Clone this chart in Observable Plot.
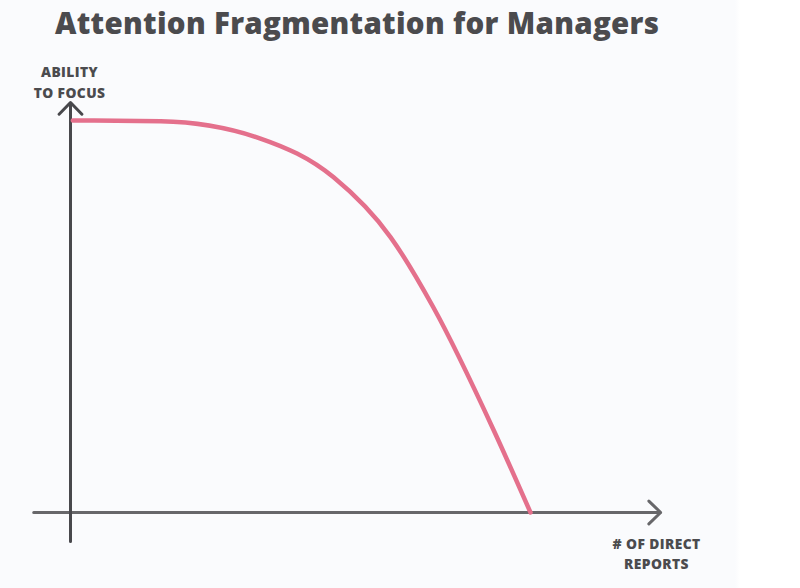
<!DOCTYPE html>
<html>
<head>
<meta charset="utf-8">
<script src="https://cdn.jsdelivr.net/npm/d3@7"></script>
<script src="https://cdn.jsdelivr.net/npm/@observablehq/plot@0.6"></script>
<style>
  html, body { margin: 0; padding: 0; background: #ffffff; }
  #wrap { position: relative; width: 800px; height: 588px; overflow: hidden;
          background: linear-gradient(to right, #fafbfd 0, #fafbfd 735px, #ffffff 740px); }
  #title { position: absolute; left: 55px; top: 0; height: 50px; line-height: 46px;
           font-family: "Open Sans", sans-serif; font-weight: 800; font-size: 29.5px;
           color: #4b4b4e; white-space: nowrap; letter-spacing: 0.3px; }
  #chart { position: absolute; left: 0; top: 50px; }
</style>
</head>
<body>
<div id="wrap">
  <div id="title">Attention Fragmentation for Managers</div>
  <div id="chart"></div>
</div>
<script>
// Curve: ability to focus (0-100) vs number of direct reports (0-10)
const reports = [0.05, 1.96, 4.13, 5.72, 6.96, 7.89, 9.2, 10.0];
const ability = [100, 99.8, 95.4, 85.5, 70.2, 52.3, 21.0, 0];

const yLabel = "ABILITY\nTO FOCUS";
const xLabel = "# OF DIRECT\nREPORTS";

// axis arrow extents in data units
const xAxisFrom = -0.8, xAxisTo = 12.83;
const yAxisFrom = -7.4, yAxisTo = 104.6;

const curve = reports.map((r, i) => ({r, a: ability[i]}));

const chart = Plot.plot({
  width: 800,
  height: 538,
  marginTop: 0, marginRight: 0, marginBottom: 0, marginLeft: 0,
  x: {domain: [0, 10], range: [70, 530], axis: null},
  y: {domain: [0, 100], range: [462, 70], axis: null},
  style: {background: "transparent", fontFamily: "Open Sans, sans-serif"},
  marks: [
    Plot.arrow([{x1: xAxisFrom, x2: xAxisTo, y1: 0, y2: 0}], {
      x1: "x1", x2: "x2", y1: "y1", y2: "y2",
      stroke: "#67676a", strokeWidth: 3, headLength: 8.2, headAngle: 88, insetEnd: 0
    }),
    Plot.arrow([{x1: 0, x2: 0, y1: yAxisFrom, y2: yAxisTo}], {
      x1: "x1", x2: "x2", y1: "y1", y2: "y2",
      stroke: "#48484c", strokeWidth: 3, headLength: 8.2, headAngle: 88, insetEnd: 0
    }),
    Plot.line(curve, {x: "r", y: "a", curve: "monotone-x", stroke: "#e4708c", strokeWidth: 4.5}),
    Plot.text([yLabel], {
      x: 0, y: 110.1, text: d => d, fontSize: 13.8, fontWeight: 800,
      fill: "#4b4b4e", lineHeight: 1.52, textAnchor: "middle", lineAnchor: "middle",
      dx: -1
    }),
    Plot.text([xLabel], {
      x: 12.74, y: -10.2, text: d => d, fontSize: 13.8, fontWeight: 800,
      fill: "#4b4b4e", lineHeight: 1.47, textAnchor: "middle", lineAnchor: "middle"
    })
  ]
});
chart.querySelectorAll("text").forEach(t => t.setAttribute("letter-spacing", "0.4"));
document.getElementById("chart").appendChild(chart);
</script>
</body>
</html>
